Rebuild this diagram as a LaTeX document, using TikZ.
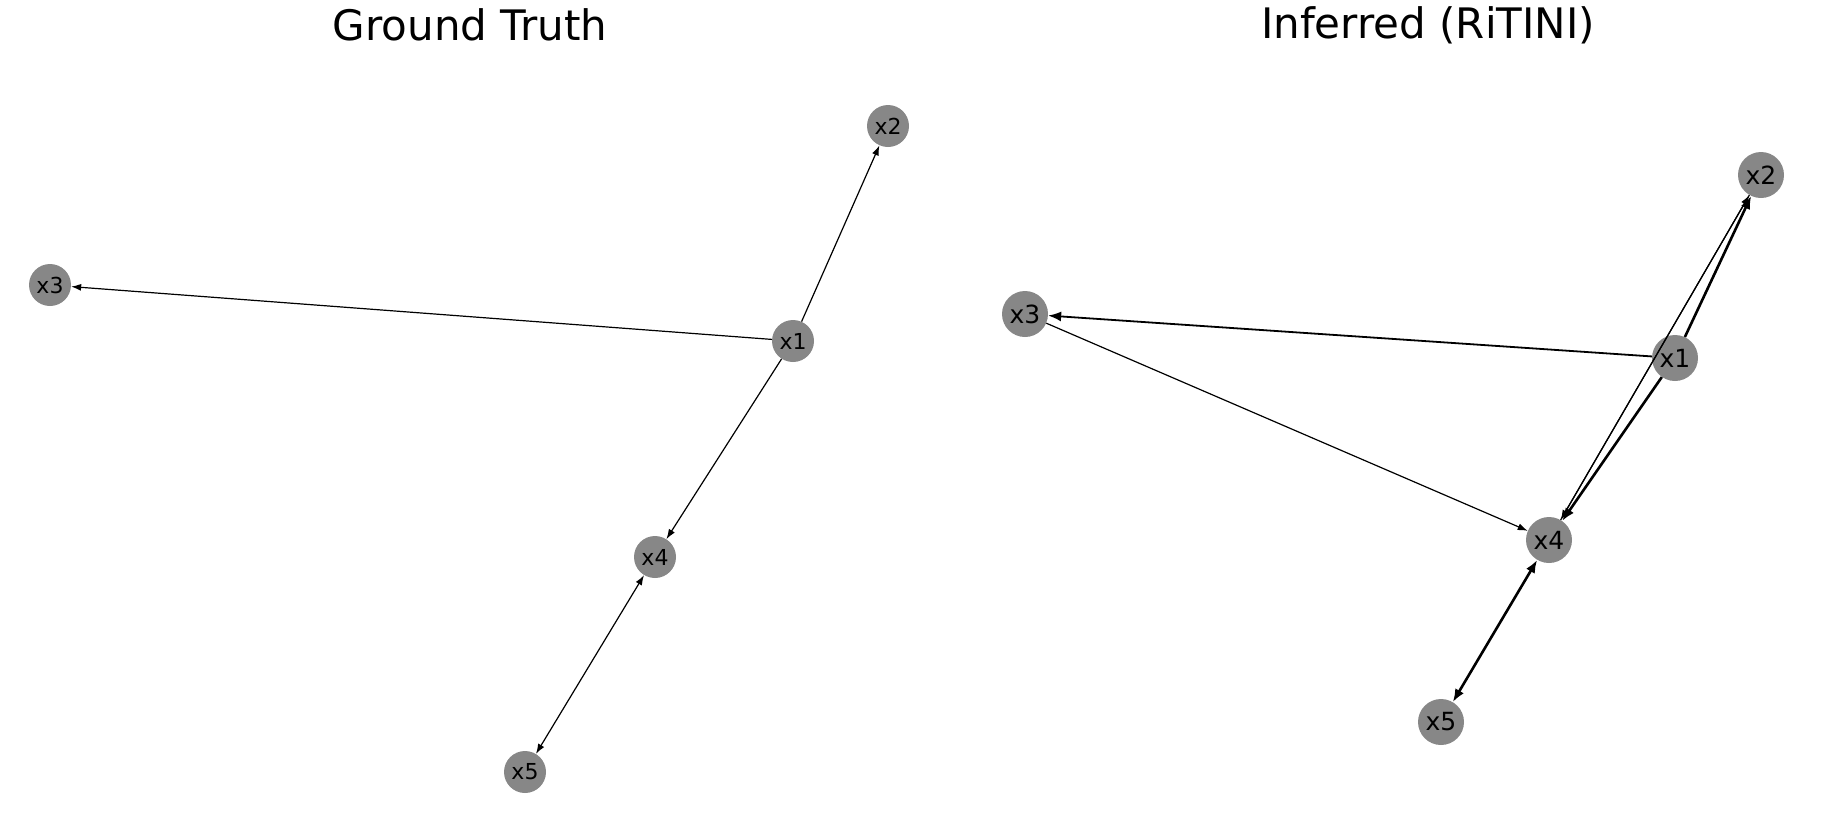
\documentclass[tikz,border=0pt]{standalone}
\usepackage{fontspec}
\setmainfont{DejaVu Sans}
\usetikzlibrary{arrows.meta}
\begin{document}
\begin{tikzpicture}[x=1pt,y=-1pt,
  nd/.style={circle,fill=black!47,minimum size=42pt,inner sep=0pt,font=\fontsize{22}{24}\selectfont},
  ndr/.style={nd,minimum size=46pt,font=\fontsize{25}{27}\selectfont},
  ed/.style={-{Latex[length=10pt,width=7pt]},line width=1.2pt},
  edt/.style={-{Latex[length=13pt,width=10pt]},line width=2.6pt},
  ttl/.style={font=\fontsize{42}{46}\selectfont}]
\useasboundingbox (0,0) rectangle (1840,815);
\node[ttl] (t1) at (470,25) {Ground Truth};
\node[ttl] (t2) at (1428,25) {Inferred (RiTINI)};
% left
\node[nd] (a2) at (888,126) {x2};
\node[nd] (a3) at (50,285) {x3};
\node[nd] (a1) at (793,341) {x1};
\node[nd] (a4) at (655,557) {x4};
\node[nd] (a5) at (525,772) {x5};
\draw[ed] (a1) -- (a2);
\draw[ed] (a1) -- (a3);
\draw[ed] (a1) -- (a4);
\draw[ed,{Latex[length=10pt,width=7pt]}-{Latex[length=10pt,width=7pt]}] (a4) -- (a5);
% right
\node[ndr] (b2) at (1761,175) {x2};
\node[ndr] (b3) at (1025,314) {x3};
\node[ndr] (b1) at (1675,358) {x1};
\node[ndr] (b4) at (1549,540) {x4};
\node[ndr] (b5) at (1441,722) {x5};
\draw[edt,line width=1.8pt] (b1) -- (b3);
\draw[ed] (b3) -- (b4);
\draw[edt] (b1) -- (b2);
\draw[ed] (b4) -- (b2);
\draw[ed] (b2) -- (b4);
\draw[edt] (b1) -- (b4);
\draw[edt,{Latex[length=13pt,width=10pt]}-{Latex[length=13pt,width=10pt]}] (b4) -- (b5);
\end{tikzpicture}
\end{document}
